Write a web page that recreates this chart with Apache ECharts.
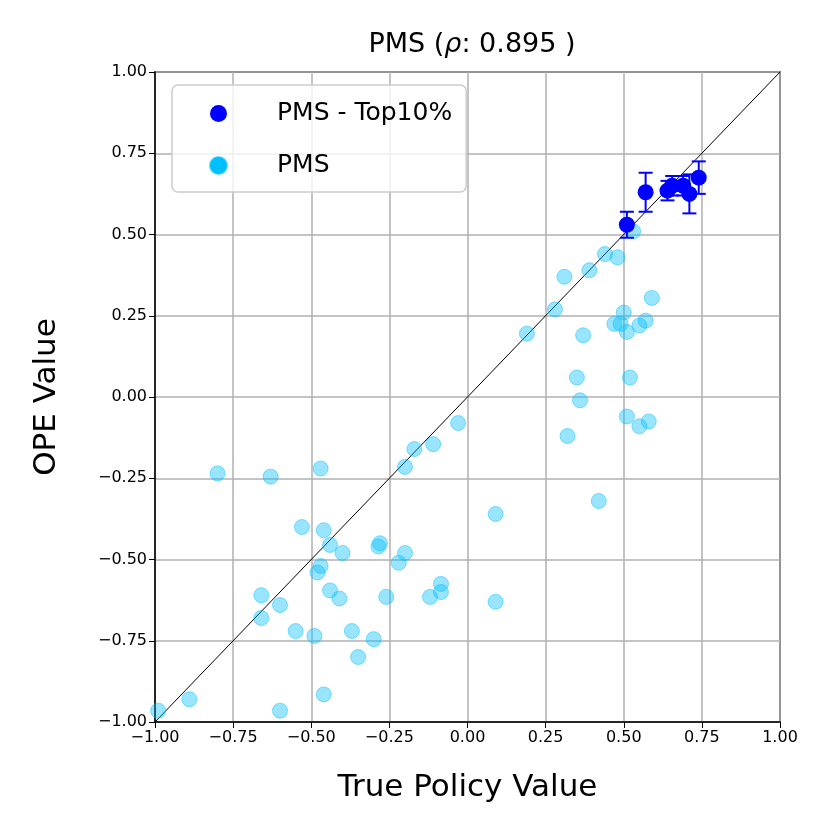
<!DOCTYPE html>
<html>
<head>
<meta charset="utf-8">
<script src="https://cdn.jsdelivr.net/npm/echarts@6/dist/echarts.min.js"></script>
<style>html,body{margin:0;padding:0;background:#fff}#chart{width:830px;height:830px}</style>
</head>
<body>
<div id="chart"></div>
<script>
// top 10% policies: [true value, OPE value, error half-width]
const topPoints = [
  [0.51, 0.53, 0.04],
  [0.57, 0.63, 0.06],
  [0.64, 0.635, 0.03],
  [0.655, 0.65, 0.03],
  [0.69, 0.65, 0.03],
  [0.71, 0.625, 0.06],
  [0.74, 0.675, 0.05],
];
const otherPoints = [
  [0.53, 0.51], [0.44, 0.44], [0.39, 0.39], [0.48, 0.43], [0.31, 0.37], [0.28, 0.27],
  [0.19, 0.195], [0.37, 0.19], [0.47, 0.225], [0.49, 0.225], [0.50, 0.26], [0.51, 0.20],
  [0.55, 0.22], [0.57, 0.235], [0.59, 0.305], [0.35, 0.06], [0.36, -0.01], [0.52, 0.06],
  [0.51, -0.06], [0.55, -0.09], [0.58, -0.075], [0.32, -0.12], [0.42, -0.32],
  [-0.03, -0.08], [-0.11, -0.145], [-0.17, -0.16], [-0.2, -0.215], [-0.47, -0.22],
  [-0.63, -0.245], [-0.8, -0.235], [0.09, -0.36], [-0.53, -0.40], [-0.46, -0.41],
  [-0.44, -0.455], [-0.28, -0.45], [-0.285, -0.46], [-0.2, -0.48], [-0.4, -0.48],
  [-0.22, -0.51], [-0.47, -0.52], [-0.48, -0.54], [-0.085, -0.575], [-0.085, -0.60],
  [-0.12, -0.615], [-0.26, -0.615], [-0.44, -0.595], [-0.41, -0.62], [0.09, -0.63],
  [-0.66, -0.61], [-0.6, -0.64], [-0.66, -0.68], [-0.55, -0.72], [-0.49, -0.735],
  [-0.37, -0.72], [-0.3, -0.745], [-0.35, -0.80], [-0.46, -0.915], [-0.89, -0.93],
  [-0.6, -0.965], [-0.99, -0.965],
];
const diagonal = [[-1, -1], [1, 1]];

const chart = echarts.init(document.getElementById("chart"));

const axisCommon = {
  type: "value",
  min: -1,
  max: 1,
  interval: 0.25,
  nameLocation: "center",
  nameTextStyle: { fontSize: 31, color: "#000" },
  axisLine: { onZero: false, lineStyle: { color: "#000", width: 1.5 } },
  axisTick: { show: true, length: 6, lineStyle: { color: "#000" } },
  axisLabel: { fontSize: 16, color: "#000", formatter: (v) => v.toFixed(2).replace("-", "\u2212") },
  splitLine: { show: true, lineStyle: { color: "#b0b0b0", width: 1.5 } },
};

chart.setOption({
  animation: false,
  textStyle: { fontFamily: "DejaVu Sans" },
  title: {
    text: "{n|PMS (}{r|ρ}{n|: 0.895 )}",
    left: 467,
    top: 26,
    textAlign: "center",
    textStyle: {
      fontWeight: "normal",
      rich: {
        n: { fontSize: 27, color: "#000", fontWeight: "normal", fontFamily: "DejaVu Sans" },
        r: { fontSize: 27, color: "#000", fontWeight: "normal", fontStyle: "italic", fontFamily: "DejaVu Sans" },
      },
    },
  },
  grid: { left: 155, right: 50, top: 72, bottom: 108, show: true, borderColor: "#000", borderWidth: 1.5 },
  legend: {
    left: 172,
    top: 85,
    orient: "vertical",
    itemGap: 27,
    padding: [16, 14, 14, 37],
    itemWidth: 17,
    itemHeight: 17,
    borderColor: "#ccc",
    borderWidth: 1.5,
    borderRadius: 6,
    backgroundColor: "rgba(255,255,255,0.8)",
    textStyle: { fontSize: 25, color: "#000", padding: [0, 0, 0, 45] },
    data: [
      { name: "PMS - Top10%", icon: "circle", itemStyle: { color: "#0000ff" } },
      { name: "PMS", icon: "circle", itemStyle: { color: "#00bfff", opacity: 1 } },
    ],
  },
  xAxis: Object.assign({}, axisCommon, { name: "True Policy Value", nameGap: 50 }),
  yAxis: Object.assign({}, axisCommon, { name: "OPE Value", nameGap: 93 }),
  series: [
    {
      type: "line",
      data: diagonal,
      symbol: "none",
      silent: true,
      lineStyle: { color: "#000", width: 1 },
      z: 1,
    },
    {
      name: "PMS",
      type: "scatter",
      data: otherPoints,
      symbolSize: 15,
      itemStyle: { color: "rgba(0,191,255,0.5)", borderColor: "rgba(0,191,255,0.6)", borderWidth: 1 },
      z: 2,
    },
    {
      type: "custom",
      data: topPoints,
      z: 3,
      renderItem: (params, api) => {
        const x = api.value(0), y = api.value(1), e = api.value(2);
        const top = api.coord([x, y + e]);
        const bot = api.coord([x, y - e]);
        const w = 7;
        const style = { stroke: "#0000ff", lineWidth: 2 };
        return {
          type: "group",
          children: [
            { type: "line", shape: { x1: top[0], y1: top[1], x2: bot[0], y2: bot[1] }, style },
            { type: "line", shape: { x1: top[0] - w, y1: top[1], x2: top[0] + w, y2: top[1] }, style },
            { type: "line", shape: { x1: bot[0] - w, y1: bot[1], x2: bot[0] + w, y2: bot[1] }, style },
          ],
        };
      },
    },
    {
      name: "PMS - Top10%",
      type: "scatter",
      data: topPoints.map((p) => [p[0], p[1]]),
      symbolSize: 16,
      itemStyle: { color: "#0000ff", opacity: 1 },
      z: 4,
    },
  ],
});
</script>
</body>
</html>
